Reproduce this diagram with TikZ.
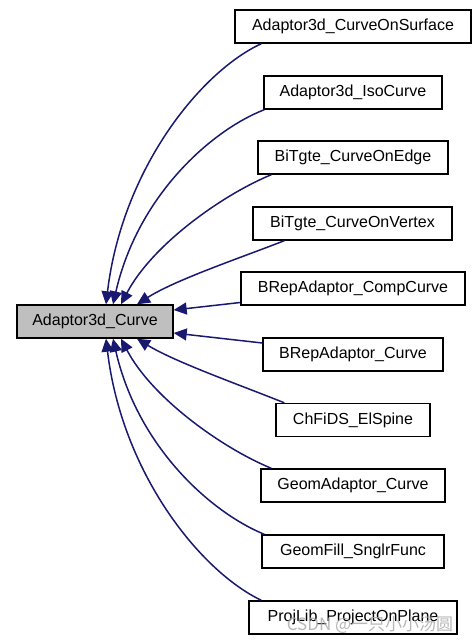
\documentclass[tikz,border=0pt]{standalone}
\usepackage{fontspec}
\setmainfont{Liberation Sans}
\newfontfamily\cjk{Noto Sans CJK SC}
\usetikzlibrary{arrows.meta}
\definecolor{edgeblue}{RGB}{25,25,112}
\definecolor{maingray}{RGB}{191,191,191}
\tikzset{
  cls/.style={draw=black, line width=1.4pt, minimum height=33pt, inner sep=0pt,
    font=\fontsize{16}{18}\selectfont, fill=white},
  mainbox/.style={cls, fill=maingray},
  inh/.style={draw=edgeblue, line width=1.5pt, -{Triangle[length=13pt,width=12pt]}},
}
\begin{document}
\begin{tikzpicture}[x=1pt,y=-1pt]
\useasboundingbox (0,0) rectangle (474,644);
% nodes
\node[mainbox, minimum width=156pt] (main) at (95,321.5) {Adaptor3d\_Curve};
\node[cls, minimum width=236pt] (n1) at (353,26.5) {Adaptor3d\_CurveOnSurface};
\node[cls, minimum width=178pt] (n2) at (353,92.5) {Adaptor3d\_IsoCurve};
\node[cls, minimum width=190pt] (n3) at (353,157.5) {BiTgte\_CurveOnEdge};
\node[cls, minimum width=199pt] (n4) at (352.5,223.5) {BiTgte\_CurveOnVertex};
\node[cls, minimum width=224pt] (n5) at (353,288.5) {BRepAdaptor\_CompCurve};
\node[cls, minimum width=180pt] (n6) at (353,354.5) {BRepAdaptor\_Curve};
\node[cls, minimum width=154pt] (n7) at (353,420) {ChFiDS\_ElSpine};
\node[cls, minimum width=184pt] (n8) at (353,485.5) {GeomAdaptor\_Curve};
\node[cls, minimum width=182pt] (n9) at (353,551.5) {GeomFill\_SnglrFunc};
\node[cls, minimum width=208pt] (n10) at (353,617.5) {ProjLib\_ProjectOnPlane};
% connectors
\draw[inh] ([xshift=27pt]n1.south west) .. controls (200,72) and (122,170) .. ([xshift=11pt]main.north);
\draw[inh] ([xshift=1pt]n2.south west) .. controls (212,130) and (138,195) .. ([xshift=18pt]main.north);
\draw[inh] ([xshift=14pt]n3.south west) .. controls (222,195) and (152,245) .. ([xshift=26pt]main.north);
\draw[inh] ([xshift=32pt]n4.south west) .. controls (240,258) and (175,280) .. ([xshift=42pt]main.north);
\draw[inh] ([yshift=-14pt]n5.west) -- ([yshift=11.5pt]main.east);
\draw[inh] ([yshift=11.5pt]n6.west) -- ([yshift=-11.5pt]main.east);
\draw[inh] ([xshift=9pt]n7.north west) .. controls (240,385) and (175,362) .. ([xshift=42pt]main.south);
\draw[inh] ([xshift=11pt]n8.north west) .. controls (222,448) and (152,398) .. ([xshift=26pt]main.south);
\draw[inh] ([xshift=3pt]n9.north west) .. controls (212,513) and (138,448) .. ([xshift=18pt]main.south);
\draw[inh] ([xshift=13pt]n10.north west) .. controls (200,571) and (122,473) .. ([xshift=11pt]main.south);
% watermark
\node[text=gray!70, opacity=0.8, font=\cjk\fontsize{17}{19}\selectfont, inner sep=0pt] (wm) at (370,625) {CSDN @一只小小汤圆};
\end{tikzpicture}
\end{document}
